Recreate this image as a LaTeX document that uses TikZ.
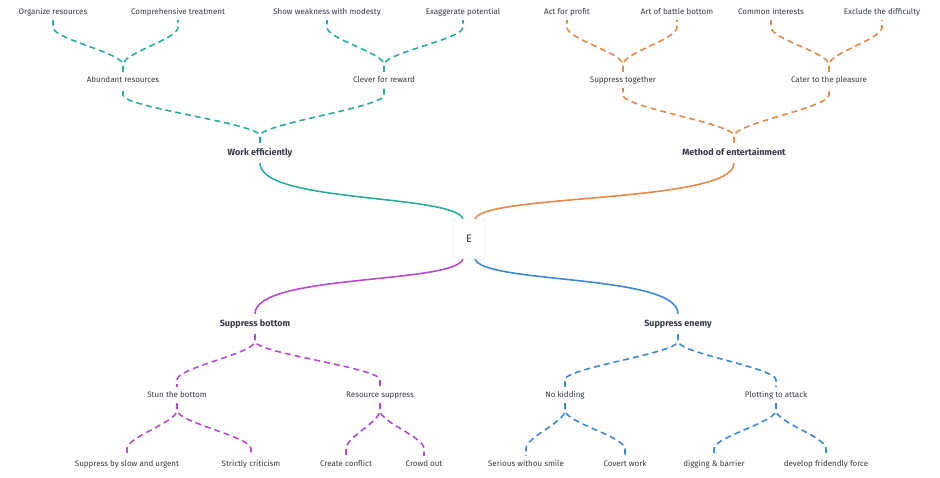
\documentclass[tikz,border=0pt]{standalone}
\usepackage{fontspec}
\setmainfont{Fira Sans}
\usetikzlibrary{calc}
\definecolor{tl}{HTML}{2AAE9C}
\definecolor{og}{HTML}{E5884A}
\definecolor{mg}{HTML}{B64AD0}
\definecolor{bl}{HTML}{3C8AD6}
\definecolor{tx}{HTML}{333A45}
\tikzset{
 leaf/.style={text=tx,font=\fontsize{8}{9}\selectfont,inner sep=0pt,text height=6pt,text depth=2pt,minimum height=16pt},
 main/.style={text=tx,font=\fontsize{9}{10}\selectfont\bfseries,inner sep=0pt,text height=7pt,text depth=2pt,minimum height=20pt},
 dsh/.style={line width=1.6pt,dash pattern=on 6pt off 4pt},
 sol/.style={line width=1.6pt},
}
\newcommand{\brup}[3]{\draw[dsh,#3] (#1.north) -- ++(0,7) .. controls +(0,12) and +(0,-12) .. ($(#2.south)+(0,-7)$) -- (#2.south);}
\newcommand{\brdn}[3]{\draw[dsh,#3] (#1.south) -- ++(0,-7) .. controls +(0,-12) and +(0,12) .. ($(#2.north)+(0,7)$) -- (#2.north);}
\begin{document}
\begin{tikzpicture}[x=1pt,y=1pt]
\useasboundingbox (0,0) rectangle (940,-477);
\node[draw=black!12,rounded corners=3pt,minimum width=32pt,minimum height=40pt,text=tx,font=\fontsize{11}{12}\selectfont] (E) at (469,-239) {E};
\node[main] (w) at (260,-153) {Work efficiently};
\node[main] (m) at (734,-153) {Method of entertainment};
\node[main] (sb) at (255,-324) {Suppress bottom};
\node[main] (se) at (678,-324) {Suppress enemy};
\node[leaf] (ar) at (123,-80) {Abundant resources};
\node[leaf] (cr) at (384,-80) {Clever for reward};
\node[leaf] (st) at (623,-80) {Suppress together};
\node[leaf] (cp) at (829,-80) {Cater to the pleasure};
\node[leaf] (a1) at (53,-12) {Organize resources};
\node[leaf] (a2) at (178,-12) {Comprehensive treatment};
\node[leaf] (c1) at (327,-12) {Show weakness with modesty};
\node[leaf] (c2) at (463,-12) {Exaggerate potential};
\node[leaf] (s1) at (567,-12) {Act for profit};
\node[leaf] (s2) at (677,-12) {Art of battle bottom};
\node[leaf] (p1) at (771,-12) {Common interests};
\node[leaf] (p2) at (882,-12) {Exclude the difficulty};
\node[leaf] (sn) at (177,-395) {Stun the bottom};
\node[leaf] (rs) at (380,-395) {Resource suppress};
\node[leaf] (nk) at (565,-395) {No kidding};
\node[leaf] (pa) at (776,-395) {Plotting to attack};
\node[leaf] (n1) at (127,-464) {Suppress by slow and urgent};
\node[leaf] (n2) at (251,-464) {Strictly criticism};
\node[leaf] (r1) at (346,-464) {Create conflict};
\node[leaf] (r2) at (424,-464) {Crowd out};
\node[leaf] (k1) at (526,-464) {Serious withou smile};
\node[leaf] (k2) at (625,-464) {Covert work};
\node[leaf] (t1) at (714,-464) {digging \& barrier};
\node[leaf] (t2) at (826,-464) {develop fridendly force};
\draw[sol,tl] ($(E.north)+(-6,0)$) .. controls +(-10,25) and +(0,-40) .. (w.south);
\draw[sol,og] ($(E.north)+(6,0)$) .. controls +(10,25) and +(0,-40) .. (m.south);
\draw[sol,mg] ($(E.south)+(-6,0)$) .. controls +(-10,-25) and +(0,40) .. (sb.north);
\draw[sol,bl] ($(E.south)+(6,0)$) .. controls +(10,-25) and +(0,40) .. (se.north);
\brup{w}{ar}{tl}\brup{w}{cr}{tl}
\brup{ar}{a1}{tl}\brup{ar}{a2}{tl}
\brup{cr}{c1}{tl}\brup{cr}{c2}{tl}
\brup{m}{st}{og}\brup{m}{cp}{og}
\brup{st}{s1}{og}\brup{st}{s2}{og}
\brup{cp}{p1}{og}\brup{cp}{p2}{og}
\brdn{sb}{sn}{mg}\brdn{sb}{rs}{mg}
\brdn{sn}{n1}{mg}\brdn{sn}{n2}{mg}
\brdn{rs}{r1}{mg}\brdn{rs}{r2}{mg}
\brdn{se}{nk}{bl}\brdn{se}{pa}{bl}
\brdn{nk}{k1}{bl}\brdn{nk}{k2}{bl}
\brdn{pa}{t1}{bl}\brdn{pa}{t2}{bl}
\end{tikzpicture}
\end{document}
